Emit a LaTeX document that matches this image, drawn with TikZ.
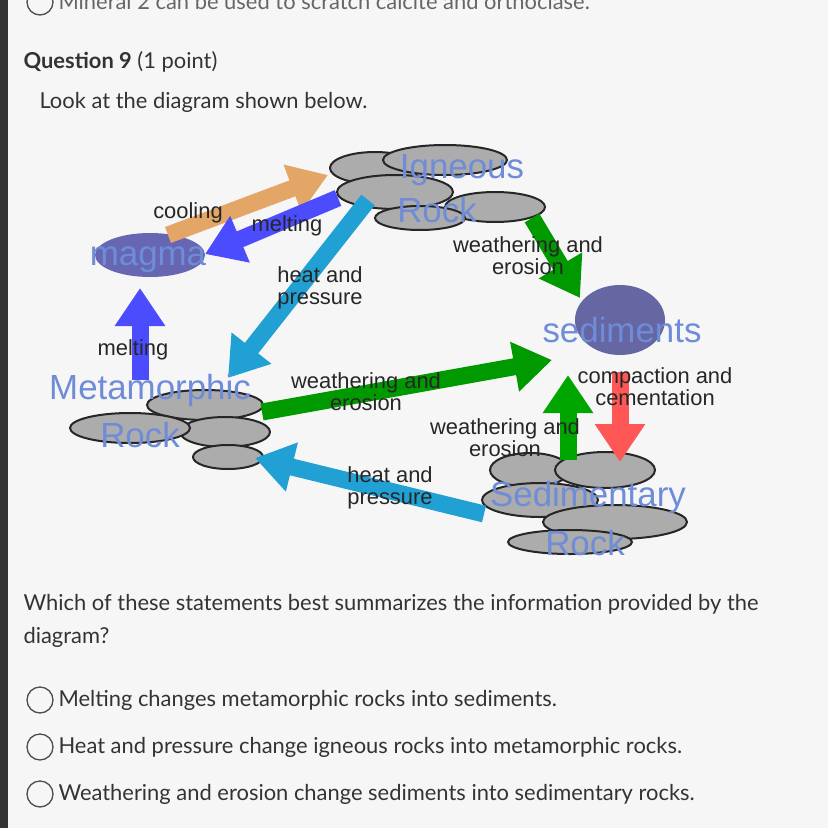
\documentclass[tikz,border=0pt]{standalone}
\usepackage{fontspec}
\setmainfont{Lato}
\newfontfamily\arial{Liberation Sans}
\usetikzlibrary{arrows.meta}
\definecolor{rockblue}{RGB}{110,140,215}
\begin{document}
\begin{tikzpicture}[x=1bp,y=-1bp,
  ui/.style={anchor=west,font=\fontsize{22}{24}\selectfont,text=black!80},
  lab/.style={font=\arial\fontsize{22}{22}\selectfont,text=black!85,align=center},
  bigo/.style={font=\arial\fontsize{35}{36}\selectfont,text=rockblue},
  fat/.style={line width=17bp,-{Triangle[length=38bp,width=48bp]}},
  rock/.style={fill=gray!65,draw=black!85,line width=2bp},
  opt/.style={draw=black!70,line width=1.3bp}]
\fill[white!93!gray] (0,0) rectangle (828,828);
\fill[black!80] (0,0) rectangle (8,828);
\useasboundingbox (0,0) rectangle (828,828);
\node[ui,text=black!60] (top) at (55,2) {Mineral 2 can be used to scratch calcite and orthoclase.};
\draw[opt] (40,2) circle (13);
\node[ui] (q) at (20,62) {\textbf{Question 9} (1 point)};
\node[ui] (look) at (36,102) {Look at the diagram shown below.};
% rocks
\fill[rock] (375,168) ellipse (45 and 16); \fill[rock] (445,160) ellipse (62 and 15);
\fill[rock] (395,192) ellipse (58 and 17); \fill[rock] (495,207) ellipse (50 and 15);
\fill[rock] (420,218) ellipse (45 and 12);
\fill[rock] (205,405) ellipse (58 and 15); \fill[rock] (225,432) ellipse (45 and 15);
\fill[rock] (228,457) ellipse (35 and 12); \fill[rock] (130,428) ellipse (60 and 15);
\fill[rock] (530,470) ellipse (40 and 17); \fill[rock] (605,470) ellipse (50 and 18);
\fill[rock] (540,500) ellipse (58 and 17); \fill[rock] (615,522) ellipse (72 and 17);
\fill[rock] (570,542) ellipse (62 and 12);
\fill[blue!50!black!60] (150,255) ellipse (55 and 22);
\fill[blue!40!black!60] (620,320) ellipse (45 and 35);
% arrows
\coordinate (a1) at (168,235); \coordinate (b1) at (328,175);
\draw[fat,color=orange!40!brown!70] (a1) -- (b1);
\coordinate (a2) at (338,198); \coordinate (b2) at (205,254);
\draw[fat,color=blue!70] (a2) -- (b2);
\coordinate (a3) at (368,200); \coordinate (b3) at (228,378);
\draw[fat,color=cyan!70!teal] (a3) -- (b3);
\coordinate (a4) at (532,218); \coordinate (b4) at (580,298);
\draw[fat,color=green!60!black] (a4) -- (b4);
\coordinate (a5) at (140,380); \coordinate (b5) at (140,288);
\draw[fat,color=blue!70] (a5) -- (b5);
\coordinate (a6) at (262,412); \coordinate (b6) at (552,360);
\draw[fat,color=green!60!black] (a6) -- (b6);
\coordinate (a7) at (620,372); \coordinate (b7) at (620,462);
\draw[fat,color=red!55!pink] (a7) -- (b7);
\coordinate (a8) at (568,460); \coordinate (b8) at (568,375);
\draw[fat,color=green!65!black] (a8) -- (b8);
\coordinate (a9) at (484,514); \coordinate (b9) at (255,458);
\draw[fat,color=cyan!70!teal] (a9) -- (b9);
% nodes
\node[bigo] (ign1) at (462,170) {Igneous};
\node[bigo] (ign2) at (437,210) {Rock};
\node[bigo] (mag) at (148,260) {magma};
\node[bigo] (sed) at (622,330) {sediments};
\node[bigo] (met1) at (150,390) {Metamorphic};
\node[bigo] (met2) at (140,435) {Rock};
\node[bigo] (sr1) at (588,497) {Sedimentary};
\node[bigo] (sr2) at (585,543) {Rock};
% labels
\node[lab] (l1) at (188,213) {cooling};
\node[lab] (l2) at (287,226) {melting};
\node[lab] (l3) at (320,288) {heat and\\pressure};
\node[lab] (l4) at (528,256) {weathering and\\erosion};
\node[lab] (l5) at (133,350) {melting};
\node[lab] (l6) at (366,392) {weathering and\\erosion};
\node[lab] (l7) at (655,387) {compaction and\\cementation};
\node[lab] (l8) at (505,438) {weathering and\\erosion};
\node[lab] (l9) at (390,488) {heat and\\pressure};
% question
\node[ui] (w1) at (20,604) {Which of these statements best summarizes the information provided by the};
\node[ui] (w2) at (20,637) {diagram?};
\draw[opt] (40,700) circle (13); \node[ui] (o1) at (55,700) {Melting changes metamorphic rocks into sediments.};
\draw[opt] (40,747) circle (13); \node[ui] (o2) at (55,747) {Heat and pressure change igneous rocks into metamorphic rocks.};
\draw[opt] (40,794) circle (13); \node[ui] (o3) at (55,794) {Weathering and erosion change sediments into sedimentary rocks.};
\end{tikzpicture}
\end{document}
